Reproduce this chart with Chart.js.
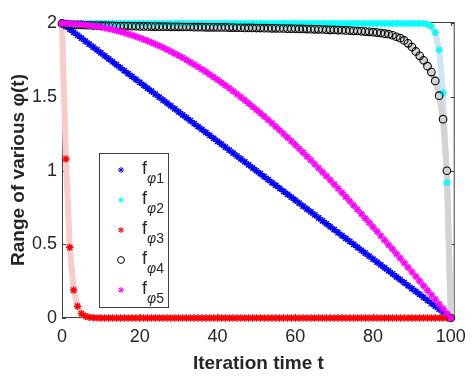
<!DOCTYPE html>
<html>
<head>
<meta charset="utf-8">
<script src="https://cdn.jsdelivr.net/npm/chart.js@4.4.1/dist/chart.umd.min.js"></script>
<style>
  html, body { margin: 0; padding: 0; background: #fff; }
</style>
</head>
<body>
<canvas id="phi-chart" width="474" height="385"></canvas>
<script>
// iteration index t
const iterations = [
  0, 1, 2, 3, 4, 5, 6, 7, 8, 9, 10, 11, 12, 13, 14, 15, 16, 17, 18, 19, 20,
  21, 22, 23, 24, 25, 26, 27, 28, 29, 30, 31, 32, 33, 34, 35, 36, 37, 38, 39, 40,
  41, 42, 43, 44, 45, 46, 47, 48, 49, 50, 51, 52, 53, 54, 55, 56, 57, 58, 59, 60,
  61, 62, 63, 64, 65, 66, 67, 68, 69, 70, 71, 72, 73, 74, 75, 76, 77, 78, 79, 80,
  81, 82, 83, 84, 85, 86, 87, 88, 89, 90, 91, 92, 93, 94, 95, 96, 97, 98, 99, 100
];

const phi1 = [
  2.00, 1.98, 1.96, 1.94, 1.92, 1.90, 1.88, 1.86, 1.84, 1.82, 1.80,
  1.78, 1.76, 1.74, 1.72, 1.70, 1.68, 1.66, 1.64, 1.62, 1.60,
  1.58, 1.56, 1.54, 1.52, 1.50, 1.48, 1.46, 1.44, 1.42, 1.40,
  1.38, 1.36, 1.34, 1.32, 1.30, 1.28, 1.26, 1.24, 1.22, 1.20,
  1.18, 1.16, 1.14, 1.12, 1.10, 1.08, 1.06, 1.04, 1.02, 1.00,
  0.98, 0.96, 0.94, 0.92, 0.90, 0.88, 0.86, 0.84, 0.82, 0.80,
  0.78, 0.76, 0.74, 0.72, 0.70, 0.68, 0.66, 0.64, 0.62, 0.60,
  0.58, 0.56, 0.54, 0.52, 0.50, 0.48, 0.46, 0.44, 0.42, 0.40,
  0.38, 0.36, 0.34, 0.32, 0.30, 0.28, 0.26, 0.24, 0.22, 0.20,
  0.18, 0.16, 0.14, 0.12, 0.10, 0.08, 0.06, 0.04, 0.02, 0.00
];

const phi2 = [
  2, 2, 2, 2, 2, 2, 2, 2, 2, 2, 2,
  2, 2, 2, 2, 2, 2, 2, 2, 2, 2,
  2, 2, 2, 2, 2, 2, 2, 2, 2, 2,
  2, 2, 2, 2, 2, 2, 2, 2, 2, 2,
  2, 2, 2, 2, 2, 2, 2, 2, 2, 2,
  2, 2, 2, 2, 2, 2, 2, 2, 2, 2,
  2, 2, 2, 2, 2, 2, 2, 2, 2, 2,
  2, 2, 2, 2, 2, 2, 2, 2, 2, 2,
  2, 2, 2, 2, 2, 2, 2, 2, 2, 2,
  2, 2, 2, 1.995, 1.98, 1.94, 1.82, 1.53, 0.92, 0
];

const phi3 = [
  2, 1.08, 0.48, 0.19, 0.08, 0.03, 0.012, 0.005, 0.002, 0.001, 0,
  0, 0, 0, 0, 0, 0, 0, 0, 0, 0,
  0, 0, 0, 0, 0, 0, 0, 0, 0, 0,
  0, 0, 0, 0, 0, 0, 0, 0, 0, 0,
  0, 0, 0, 0, 0, 0, 0, 0, 0, 0,
  0, 0, 0, 0, 0, 0, 0, 0, 0, 0,
  0, 0, 0, 0, 0, 0, 0, 0, 0, 0,
  0, 0, 0, 0, 0, 0, 0, 0, 0, 0,
  0, 0, 0, 0, 0, 0, 0, 0, 0, 0,
  0, 0, 0, 0, 0, 0, 0, 0, 0, 0
];

const phi4 = [
  2.00, 1.995, 1.993, 1.99, 1.99, 1.99, 1.988, 1.988, 1.986, 1.986, 1.985,
  1.985, 1.984, 1.984, 1.983, 1.983, 1.982, 1.982, 1.981, 1.981, 1.98,
  1.98, 1.98, 1.979, 1.979, 1.978, 1.978, 1.978, 1.977, 1.977, 1.977,
  1.976, 1.976, 1.976, 1.975, 1.975, 1.975, 1.974, 1.974, 1.974, 1.973,
  1.973, 1.973, 1.972, 1.972, 1.971, 1.971, 1.97, 1.97, 1.97, 1.969,
  1.969, 1.968, 1.968, 1.967, 1.967, 1.966, 1.966, 1.965, 1.965, 1.964,
  1.963, 1.963, 1.962, 1.961, 1.96, 1.96, 1.959, 1.958, 1.957, 1.956,
  1.955, 1.954, 1.953, 1.952, 1.95, 1.949, 1.947, 1.945, 1.943, 1.941,
  1.938, 1.935, 1.931, 1.927, 1.92, 1.91, 1.90, 1.885, 1.865, 1.84,
  1.81, 1.78, 1.75, 1.71, 1.67, 1.61, 1.51, 1.35, 1.00, 0
];

const phi5 = [
  2.000, 2.000, 1.999, 1.998, 1.996, 1.994, 1.991, 1.988, 1.984, 1.980, 1.975,
  1.970, 1.965, 1.958, 1.952, 1.945, 1.937, 1.929, 1.921, 1.912, 1.902,
  1.892, 1.882, 1.871, 1.860, 1.848, 1.836, 1.823, 1.810, 1.796, 1.782,
  1.768, 1.753, 1.737, 1.721, 1.705, 1.689, 1.672, 1.654, 1.636, 1.618,
  1.599, 1.580, 1.561, 1.541, 1.521, 1.500, 1.479, 1.458, 1.436, 1.414,
  1.392, 1.369, 1.346, 1.323, 1.299, 1.275, 1.250, 1.226, 1.201, 1.176,
  1.150, 1.124, 1.098, 1.072, 1.045, 1.018, 0.991, 0.964, 0.936, 0.908,
  0.880, 0.852, 0.823, 0.794, 0.765, 0.736, 0.707, 0.677, 0.648, 0.618,
  0.588, 0.558, 0.528, 0.497, 0.467, 0.436, 0.406, 0.375, 0.344, 0.313,
  0.282, 0.251, 0.219, 0.188, 0.157, 0.126, 0.094, 0.063, 0.031, 0
];

const xTicks = [0, 20, 40, 60, 80, 100];
const yTicks = [0, 0.5, 1, 1.5, 2];
const legendIndex = ['1', '2', '3', '4', '5'];

const series = [
  { data: phi1, color: '#0000ff', band: '#c9c9fb', marker: 'star' },
  { data: phi2, color: '#00ffff', band: '#cfe4f7', marker: 'star' },
  { data: phi3, color: '#ff0000', band: '#f9cccc', marker: 'star' },
  { data: phi4, color: '#000000', band: '#d3d3d3', marker: 'circle' },
  { data: phi5, color: '#ff00ff', band: '#f9c9f9', marker: 'star' }
];

const axisColor = '#404040';
const tickFont = { family: 'Liberation Sans', size: 18 };
const titleFont = { family: 'Liberation Sans', size: 19, weight: 'bold' };

// thick pale lines first, then the markers on top
const bandSets = series.map((s, i) => ({
  data: s.data,
  borderColor: s.band,
  borderWidth: 6,
  pointRadius: 0,
  fill: false,
  tension: 0,
  order: 15 - i,
  clip: 8
}));

const markerSets = series.map((s, i) => ({
  data: s.data,
  showLine: false,
  pointStyle: s.marker,
  pointRadius: s.marker === 'circle' ? 3.8 : 3.7,
  pointBorderWidth: s.marker === 'circle' ? 1.1 : 1.4,
  pointBorderColor: s.color,
  pointBackgroundColor: s.marker === 'circle' ? 'rgba(0,0,0,0)' : s.color,
  order: 5 - i,
  clip: 8
}));

const boxPlugin = {
  id: 'boxPlugin',
  beforeDatasetsDraw(chart) {
    const { ctx, chartArea: a, scales } = chart;
    ctx.save();
    ctx.strokeStyle = axisColor;
    ctx.lineWidth = 1;
    ctx.strokeRect(a.left + 0.5, a.top + 0.5, a.right - a.left - 1, a.bottom - a.top - 1);
    ctx.beginPath();
    xTicks.forEach(v => {
      const px = Math.round(scales.x.getPixelForValue(v)) + 0.5;
      ctx.moveTo(px, a.bottom);
      ctx.lineTo(px, a.bottom - 4);
      ctx.moveTo(px, a.top);
      ctx.lineTo(px, a.top + 4);
    });
    yTicks.forEach(v => {
      const py = Math.round(scales.y.getPixelForValue(v)) + 0.5;
      ctx.moveTo(a.left, py);
      ctx.lineTo(a.left + 4, py);
      ctx.moveTo(a.right, py);
      ctx.lineTo(a.right - 4, py);
    });
    ctx.stroke();
    ctx.restore();
  },
  afterDatasetsDraw(chart) {
    const { ctx, chartArea: a } = chart;
    const boxL = a.left + 37;
    const boxT = a.top + 131;
    const boxW = 69;
    const rowH = 30;
    ctx.save();
    ctx.fillStyle = '#fff';
    ctx.fillRect(boxL, boxT, boxW, 154);
    ctx.strokeStyle = axisColor;
    ctx.lineWidth = 1;
    ctx.strokeRect(boxL + 0.5, boxT + 0.5, boxW, 154);
    series.forEach((s, i) => {
      const y = boxT + 17 + i * rowH;
      ctx.strokeStyle = s.color;
      ctx.fillStyle = s.marker === 'circle' ? '#fff' : s.color;
      ctx.lineWidth = 1;
      Chart.helpers.drawPoint(ctx, {
        pointStyle: s.marker,
        radius: s.marker === 'circle' ? 3.4 : 3,
        borderWidth: 1,
        rotation: 0
      }, boxL + 22, y);
      ctx.fillStyle = '#262626';
      ctx.textBaseline = 'alphabetic';
      ctx.font = '18px "Liberation Sans"';
      ctx.fillText('f', boxL + 43, y + 4);
      const fw = ctx.measureText('f').width;
      ctx.font = 'italic 14px "Liberation Sans"';
      ctx.fillText('\u03c6', boxL + 43 + fw, y + 13);
      const pw = ctx.measureText('\u03c6').width;
      ctx.font = '14px "Liberation Sans"';
      ctx.fillText(legendIndex[i], boxL + 43 + fw + pw, y + 13);
    });
    ctx.restore();
  }
};

new Chart(document.getElementById('phi-chart'), {
  type: 'line',
  data: {
    labels: iterations,
    datasets: [...bandSets, ...markerSets]
  },
  options: {
    responsive: false,
    animation: false,
    events: [],
    layout: { padding: { top: 22, right: 17, left: 0, bottom: 0 } },
    plugins: { legend: { display: false }, tooltip: { enabled: false } },
    scales: {
      x: {
        type: 'linear',
        min: 0,
        max: 101,
        afterBuildTicks: scale => { scale.ticks = xTicks.map(v => ({ value: v })); },
        afterFit: scale => { scale.height = 67; },
        grid: { display: false, drawTicks: false },
        border: { display: false },
        ticks: { color: '#262626', font: tickFont, padding: 8, maxRotation: 0 },
        title: {
          display: true,
          text: 'Iteration time t',
          color: '#262626',
          font: titleFont,
          padding: { top: 0, bottom: 10 }
        }
      },
      y: {
        min: 0,
        max: 2.01,
        afterBuildTicks: scale => { scale.ticks = yTicks.map(v => ({ value: v })); },
        afterFit: scale => { scale.width = 62; },
        grid: { display: false, drawTicks: false },
        border: { display: false },
        ticks: { color: '#262626', font: tickFont, padding: 5, callback: v => String(v) },
        title: {
          display: true,
          text: 'Range of various \u03c6(t)',
          color: '#262626',
          font: titleFont,
          padding: { top: 7, bottom: 0 }
        }
      }
    }
  },
  plugins: [boxPlugin]
});
</script>
</body>
</html>
